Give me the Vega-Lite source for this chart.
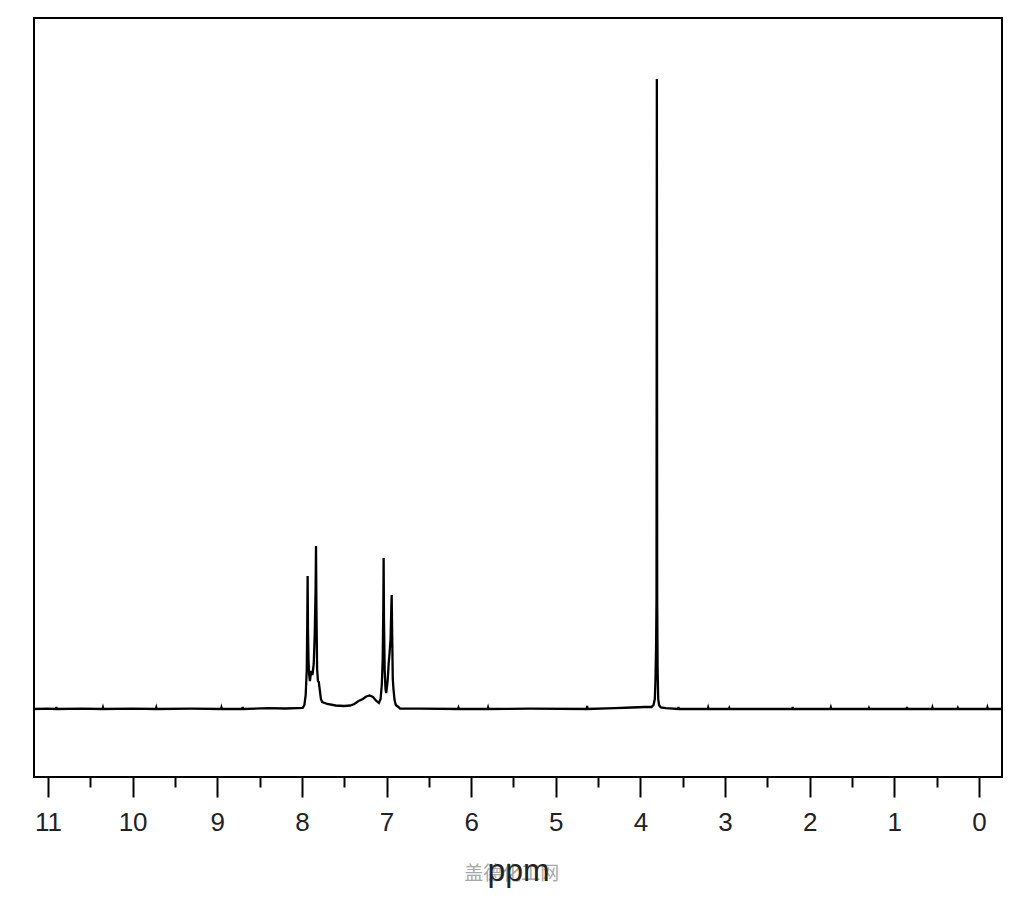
{
  "$schema": "https://vega.github.io/schema/vega-lite/v6.json",
  "width": 968,
  "height": 759,
  "autosize": {"type": "none"},
  "padding": {"left": 34, "top": 18, "right": 22, "bottom": 123},
  "background": "white",
  "config": {"view": {"stroke": "black", "strokeWidth": 2}},
  "datasets": {
    "spectrum": [
      {"ppm": 11.16, "i": 0}, {"ppm": 11.0, "i": 0.3}, {"ppm": 10.905, "i": 0}, {"ppm": 10.9, "i": 2}, {"ppm": 10.895, "i": 0},
      {"ppm": 10.6, "i": 0.4}, {"ppm": 10.355, "i": 0}, {"ppm": 10.35, "i": 1.5}, {"ppm": 10.345, "i": 0},
      {"ppm": 10.0, "i": 0.4}, {"ppm": 9.725, "i": 0}, {"ppm": 9.72, "i": 1.5}, {"ppm": 9.715, "i": 0},
      {"ppm": 9.3, "i": 0.3}, {"ppm": 8.955, "i": 0}, {"ppm": 8.95, "i": 1.5}, {"ppm": 8.945, "i": 0},
      {"ppm": 8.705, "i": 0}, {"ppm": 8.7, "i": 2}, {"ppm": 8.695, "i": 0}, {"ppm": 8.4, "i": 0.8},
      {"ppm": 8.2, "i": 0.5}, {"ppm": 8.05, "i": 0.8}, {"ppm": 7.99, "i": 1},
      {"ppm": 7.97, "i": 4}, {"ppm": 7.955, "i": 14}, {"ppm": 7.942, "i": 40}, {"ppm": 7.936, "i": 90},
      {"ppm": 7.932, "i": 133}, {"ppm": 7.928, "i": 80}, {"ppm": 7.922, "i": 50}, {"ppm": 7.915, "i": 35},
      {"ppm": 7.905, "i": 28}, {"ppm": 7.89, "i": 38}, {"ppm": 7.875, "i": 34}, {"ppm": 7.86, "i": 45},
      {"ppm": 7.848, "i": 75}, {"ppm": 7.838, "i": 120}, {"ppm": 7.833, "i": 163}, {"ppm": 7.828, "i": 100},
      {"ppm": 7.82, "i": 40}, {"ppm": 7.81, "i": 28}, {"ppm": 7.8, "i": 27}, {"ppm": 7.79, "i": 20},
      {"ppm": 7.775, "i": 10}, {"ppm": 7.76, "i": 7}, {"ppm": 7.73, "i": 6}, {"ppm": 7.7, "i": 5},
      {"ppm": 7.6, "i": 3.5}, {"ppm": 7.5, "i": 3}, {"ppm": 7.43, "i": 3.5}, {"ppm": 7.38, "i": 5},
      {"ppm": 7.33, "i": 8}, {"ppm": 7.28, "i": 10}, {"ppm": 7.24, "i": 12.5}, {"ppm": 7.2, "i": 13.5},
      {"ppm": 7.16, "i": 12}, {"ppm": 7.12, "i": 8}, {"ppm": 7.09, "i": 6}, {"ppm": 7.07, "i": 10},
      {"ppm": 7.055, "i": 25}, {"ppm": 7.045, "i": 50}, {"ppm": 7.038, "i": 100}, {"ppm": 7.034, "i": 151},
      {"ppm": 7.03, "i": 90}, {"ppm": 7.022, "i": 40}, {"ppm": 7.012, "i": 20}, {"ppm": 7.004, "i": 16},
      {"ppm": 6.995, "i": 22}, {"ppm": 6.985, "i": 30}, {"ppm": 6.975, "i": 45}, {"ppm": 6.965, "i": 55},
      {"ppm": 6.952, "i": 70}, {"ppm": 6.944, "i": 100}, {"ppm": 6.939, "i": 114}, {"ppm": 6.934, "i": 80},
      {"ppm": 6.926, "i": 30}, {"ppm": 6.918, "i": 20}, {"ppm": 6.905, "i": 9}, {"ppm": 6.89, "i": 4},
      {"ppm": 6.86, "i": 2}, {"ppm": 6.84, "i": 0.5}, {"ppm": 6.6, "i": 0.3},
      {"ppm": 6.155, "i": 0}, {"ppm": 6.15, "i": 1.2}, {"ppm": 6.145, "i": 0},
      {"ppm": 5.805, "i": 0}, {"ppm": 5.8, "i": 1.5}, {"ppm": 5.795, "i": 0}, {"ppm": 5.3, "i": 0.3},
      {"ppm": 4.635, "i": 0}, {"ppm": 4.63, "i": 3}, {"ppm": 4.625, "i": 0},
      {"ppm": 4.3, "i": 0.8}, {"ppm": 4.1, "i": 1.5}, {"ppm": 3.95, "i": 2}, {"ppm": 3.87, "i": 2},
      {"ppm": 3.845, "i": 4}, {"ppm": 3.83, "i": 10}, {"ppm": 3.822, "i": 30}, {"ppm": 3.815, "i": 62},
      {"ppm": 3.81, "i": 111}, {"ppm": 3.806, "i": 630}, {"ppm": 3.802, "i": 111}, {"ppm": 3.797, "i": 40},
      {"ppm": 3.79, "i": 10}, {"ppm": 3.78, "i": 4}, {"ppm": 3.76, "i": 1.5}, {"ppm": 3.7, "i": 0.8},
      {"ppm": 3.555, "i": 0}, {"ppm": 3.55, "i": 2}, {"ppm": 3.545, "i": 0},
      {"ppm": 3.205, "i": 0}, {"ppm": 3.2, "i": 1.5}, {"ppm": 3.195, "i": 0},
      {"ppm": 2.955, "i": 0}, {"ppm": 2.95, "i": 1}, {"ppm": 2.945, "i": 0},
      {"ppm": 2.205, "i": 0}, {"ppm": 2.2, "i": 2}, {"ppm": 2.195, "i": 0},
      {"ppm": 1.755, "i": 0}, {"ppm": 1.75, "i": 1.5}, {"ppm": 1.745, "i": 0},
      {"ppm": 1.305, "i": 0}, {"ppm": 1.3, "i": 1}, {"ppm": 1.295, "i": 0},
      {"ppm": 0.855, "i": 0}, {"ppm": 0.85, "i": 2}, {"ppm": 0.845, "i": 0},
      {"ppm": 0.555, "i": 0}, {"ppm": 0.55, "i": 1.5}, {"ppm": 0.545, "i": 0},
      {"ppm": 0.255, "i": 0}, {"ppm": 0.25, "i": 1}, {"ppm": 0.245, "i": 0},
      {"ppm": -0.095, "i": 0}, {"ppm": -0.1, "i": 1.5}, {"ppm": -0.105, "i": 0},
      {"ppm": -0.27, "i": 0}
    ],
    "mark": [{"ppm": 5.52, "i": -165, "text": "盖德化工网"}]
  },
  "layer": [
    {
      "data": {"name": "mark"},
      "mark": {"type": "text", "clip": false, "font": "Noto Sans CJK SC", "fontSize": 19, "color": "#a8a8a8", "baseline": "middle", "align": "center"},
      "encoding": {
        "x": {"field": "ppm", "type": "quantitative", "scale": {"domain": [-0.272, 11.165], "reverse": true, "nice": false, "zero": false}},
        "y": {"field": "i", "type": "quantitative", "scale": {"domain": [-68, 691], "nice": false, "zero": false}, "axis": null},
        "text": {"field": "text"}
      }
    },
    {
      "data": {"name": "spectrum"},
      "mark": {"type": "line", "clip": true, "color": "black", "strokeWidth": 2.3, "interpolate": "linear"},
      "encoding": {
        "x": {
          "field": "ppm", "type": "quantitative",
          "scale": {"domain": [-0.272, 11.165], "reverse": true, "nice": false, "zero": false},
          "axis": {
            "orient": "bottom", "zindex": 1,
            "values": [11, 10.5, 10, 9.5, 9, 8.5, 8, 7.5, 7, 6.5, 6, 5.5, 5, 4.5, 4, 3.5, 3, 2.5, 2, 1.5, 1, 0.5, 0],
            "labelExpr": "datum.value % 1 === 0 ? format(datum.value, 'd') : ''",
            "domain": false, "grid": false,
            "tickColor": "black", "tickWidth": 2,
            "tickSize": {"condition": {"test": "datum.value % 1 === 0", "value": 20}, "value": 10},
            "labelFont": "Liberation Sans", "labelFontSize": 26, "labelColor": "#222", "labelPadding": 12,
            "labelFlush": false, "labelOverlap": false,
            "title": "ppm", "titleFont": "Liberation Sans", "titleFontSize": 32, "titleFontWeight": "normal",
            "titleColor": "#222", "titlePadding": 20
          }
        },
        "y": {"field": "i", "type": "quantitative", "scale": {"domain": [-68, 691], "nice": false, "zero": false}, "axis": null}
      }
    }
  ]
}
